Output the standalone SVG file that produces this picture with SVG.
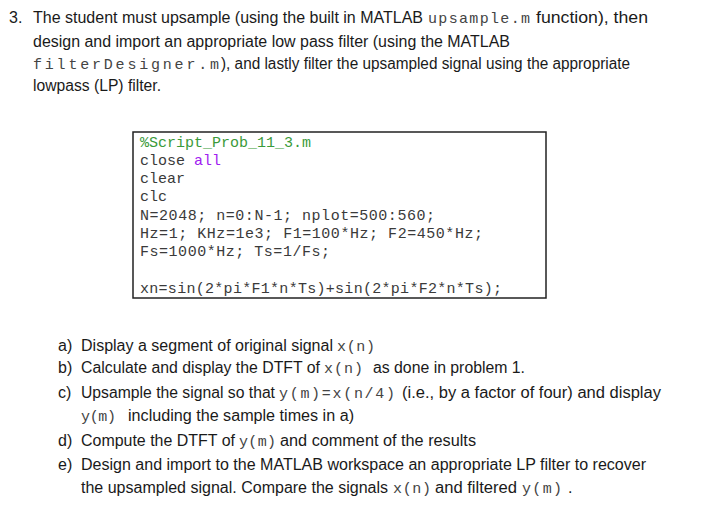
<svg xmlns="http://www.w3.org/2000/svg" width="720" height="512" viewBox="0 0 720 512">
<style>
.p{font-family:"Liberation Sans",Arial,sans-serif;font-size:16px;fill:#1a1a1a}
.m{font-family:"Liberation Mono","Courier New",monospace;font-size:15px;fill:#444}
.c{font-family:"Liberation Mono","Courier New",monospace;font-size:15px;fill:#3a3a3a}
</style>
<rect width="720" height="512" fill="#fff"/>
<text class="p" x="9" y="23">3.</text>
<text class="p" x="33" y="23" textLength="390" lengthAdjust="spacingAndGlyphs">The student must upsample (using the built in MATLAB</text>
<text class="m" x="428" y="23" textLength="102" lengthAdjust="spacing">upsample.m</text>
<text class="p" x="536" y="23" textLength="112" lengthAdjust="spacingAndGlyphs">function), then</text>
<text class="p" x="33" y="47" textLength="477" lengthAdjust="spacingAndGlyphs">design and import an appropriate low pass filter (using the MATLAB</text>
<text class="m" x="33" y="69" textLength="186" lengthAdjust="spacing">filterDesigner.m</text>
<text class="p" x="221" y="69" textLength="409" lengthAdjust="spacingAndGlyphs">), and lastly filter the upsampled signal using the appropriate</text>
<text class="p" x="33" y="91" textLength="128" lengthAdjust="spacingAndGlyphs">lowpass (LP) filter.</text>
<g id="code">
<rect x="133" y="132" width="413" height="166" fill="#fff" stroke="#222" stroke-width="1.5"/>
<text class="c" x="140" y="147" style="fill:#3a9a3a">%Script_Prob_11_3.m</text>
<text class="c" x="140" y="165">close <tspan style="fill:#a020f0">all</tspan></text>
<text class="c" x="140" y="183">clear</text>
<text class="c" x="140" y="201">clc</text>
<text class="c" x="140" y="220" textLength="295">N=2048; n=0:N-1; nplot=500:560;</text>
<text class="c" x="140" y="238" textLength="343">Hz=1; KHz=1e3; F1=100*Hz; F2=450*Hz;</text>
<text class="c" x="140" y="256" textLength="190">Fs=1000*Hz; Ts=1/Fs;</text>
<text class="c" x="140" y="293" textLength="362">xn=sin(2*pi*F1*n*Ts)+sin(2*pi*F2*n*Ts);</text>
</g>
<text class="p" x="58" y="351">a)</text>
<text class="p" x="81" y="351" textLength="252" lengthAdjust="spacingAndGlyphs">Display a segment of original signal</text>
<text class="m" x="337" y="351" textLength="38" lengthAdjust="spacing">x(n)</text>
<text class="p" x="58" y="373">b)</text>
<text class="p" x="81" y="373" textLength="239" lengthAdjust="spacingAndGlyphs">Calculate and display the DTFT of</text>
<text class="m" x="324" y="373" textLength="39" lengthAdjust="spacing">x(n)</text>
<text class="p" x="373" y="373" textLength="152" lengthAdjust="spacingAndGlyphs">as done in problem 1.</text>
<text class="p" x="58" y="398">c)</text>
<text class="p" x="81" y="398" textLength="194" lengthAdjust="spacingAndGlyphs">Upsample the signal so that</text>
<text class="m" x="279" y="398" textLength="116" lengthAdjust="spacing">y(m)=x(n/4)</text>
<text class="p" x="402" y="398" textLength="259" lengthAdjust="spacingAndGlyphs">(i.e., by a factor of four) and display</text>
<text class="m" x="81" y="421" textLength="35" lengthAdjust="spacing">y(m)</text>
<text class="p" x="128" y="421" textLength="226" lengthAdjust="spacingAndGlyphs">including the sample times in a)</text>
<text class="p" x="58" y="446">d)</text>
<text class="p" x="81" y="446" textLength="154" lengthAdjust="spacingAndGlyphs">Compute the DTFT of</text>
<text class="m" x="239" y="446" textLength="37" lengthAdjust="spacing">y(m)</text>
<text class="p" x="280" y="446" textLength="196" lengthAdjust="spacingAndGlyphs">and comment of the results</text>
<text class="p" x="58" y="470">e)</text>
<text class="p" x="81" y="470" textLength="565" lengthAdjust="spacingAndGlyphs">Design and import to the MATLAB workspace an appropriate LP filter to recover</text>
<text class="p" x="81" y="493" textLength="307" lengthAdjust="spacingAndGlyphs">the upsampled signal.  Compare the signals</text>
<text class="m" x="393" y="493" textLength="38" lengthAdjust="spacing">x(n)</text>
<text class="p" x="435" y="493" textLength="82" lengthAdjust="spacingAndGlyphs">and filtered</text>
<text class="m" x="522" y="493" textLength="40" lengthAdjust="spacing">y(m)</text>
<text class="p" x="568" y="493">.</text>
</svg>
